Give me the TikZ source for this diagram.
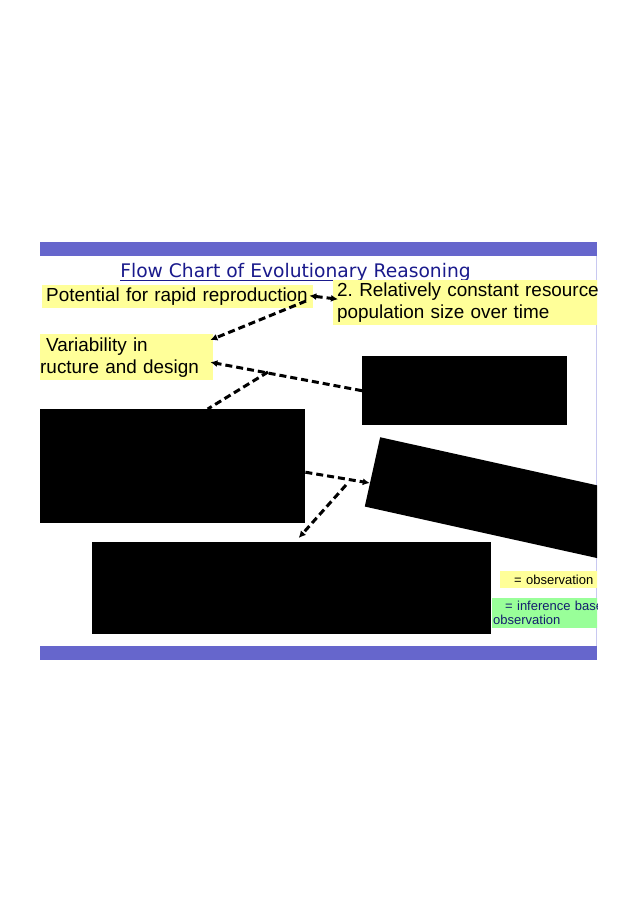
\documentclass[tikz,border=0pt]{standalone}
\usepackage{fontspec}
\setmainfont{Liberation Sans}
\newfontfamily\titlefont{DejaVu Sans}
\usetikzlibrary{calc,arrows.meta}
\frenchspacing
\definecolor{slidebar}{RGB}{102,102,204}
\definecolor{obsyellow}{RGB}{255,255,153}
\definecolor{infgreen}{RGB}{153,255,153}
\definecolor{titleblue}{RGB}{26,26,140}
\definecolor{legendnavy}{RGB}{20,30,110}
\definecolor{edgeline}{RGB}{200,200,240}
\begin{document}
\begin{tikzpicture}[x=1pt,y=-1pt,line join=round,
	obsbox/.style={fill=obsyellow, anchor=north west, inner xsep=4pt, inner ysep=0pt, align=left, font=\fontsize{18.9}{22}\selectfont},
	blackbox/.style={fill=black, anchor=north west, inner sep=0pt},
	flowline/.style={line width=3pt, dash pattern=on 7pt off 4pt},
	flowarrow/.style={flowline, -{Latex[length=7pt,width=7pt]}}]
	% page size
	\useasboundingbox[fill=white] (0,0) rectangle (638,903);
	\begin{scope}
		% slide area
		\clip (40,242) rectangle (597,660);
		\fill[slidebar] (40,242) rectangle (597,256);
		\fill[slidebar] (40,646) rectangle (597,660);
		\draw[edgeline, line width=1pt] (596.5,256) -- (596.5,646);
		
		\node[font=\titlefont\fontsize{18.7}{22}\selectfont, text=titleblue, anchor=base, inner sep=0pt] (title) at (295.5,277) {Flow Chart of Evolutionary Reasoning};
		\draw[titleblue, line width=1.2pt] ($(title.base west)+(0,3.5)$) -- ($(title.base east)+(0,3.5)$);
		
		% observation boxes
		\node[obsbox, text width=263pt, minimum height=23pt] (repro) at (42,285) {\hyphenpenalty=10000 Potential for rapid reproduction};
		\node[obsbox, text width=300pt, minimum height=45pt] (resource) at (333,280) {2. Relatively constant resource\\population size over time};
		\node[obsbox, inner xsep=0pt, text width=173pt, minimum height=46pt] (variab) at (40,334) {\hspace*{6pt}Variability in\\ructure and design};
		
		% hidden boxes
		\node[blackbox, minimum width=205pt, minimum height=69pt] (blkA) at (362,356) {};
		\node[blackbox, minimum width=265pt, minimum height=114pt] (blkB) at (40,409) {};
		\node[blackbox, rotate=-12.5, minimum width=250pt, minimum height=71pt] (blkC) at (380,437) {};
		\node[blackbox, minimum width=399pt, minimum height=92pt] (blkD) at (92,542) {};
		
		% legend
		\node[obsbox, inner xsep=14pt, text width=100pt, minimum height=17pt, font=\fontsize{13}{14}\selectfont] (legobs) at (500,571) {= observation};
		\node[obsbox, fill=infgreen, text=legendnavy, inner xsep=1pt, text width=120pt, minimum height=30pt, font=\fontsize{13}{14}\selectfont] (leginf) at (492,598) {\hspace*{12pt}= inference base\\observation};
		
		% connectors
		\coordinate (jTop) at (306,301);
		\coordinate (jMid) at (268,372);
		\coordinate (jLow) at (346,485);
		\draw[flowarrow, {Latex[length=7pt,width=7pt]}-{Latex[length=7pt,width=7pt]}] ($(repro.east)+(-4,-1)$) -- ($(resource.west)+(5,-3.5)$);
		\draw[flowarrow] (jTop) -- ($(variab.north east)+(-3,6)$);
		\draw[flowarrow] (blkA.west) -- ($(variab.east)+(-3,5)$);
		\draw[flowline] (jMid) -- ($(blkB.north)+(35,0)$);
		\draw[flowarrow] ($(blkB.east)+(0,6)$) -- ($(blkC.north west)!0.66!(blkC.south west)$);
		\draw[flowarrow] (jLow) -- ($(blkD.north)+(7,-4)$);
	\end{scope}
\end{tikzpicture}
\end{document}
